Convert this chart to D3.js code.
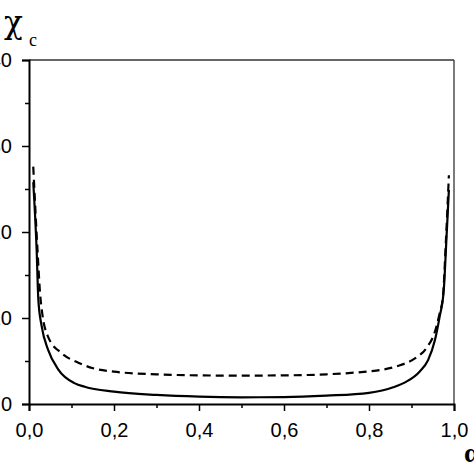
<!DOCTYPE html>
<html>
<head>
<meta charset="utf-8">
<script src="https://cdn.jsdelivr.net/npm/d3@7"></script>
<style>
  body { margin: 0; background: #fff; }
  svg { display: block; }
  .tick text { font-family: "Liberation Sans", Arial, sans-serif; font-size: 20px; fill: #000; }
</style>
</head>
<body>
<svg id="chart" width="474" height="474"></svg>
<script>
// alpha values
const alphaSolid = [0.010, 0.018, 0.022, 0.030, 0.045, 0.069, 0.108, 0.131, 0.2, 0.3, 0.4, 0.5, 0.6, 0.7, 0.8, 0.857, 0.888, 0.919, 0.939, 0.955, 0.966, 0.976, 0.982, 0.988];
const chiSolid   = [25.8, 17.9, 12.1, 9.0, 6.3, 4.0, 2.4, 2.0, 1.43, 1.05, 0.85, 0.78, 0.80, 0.97, 1.3, 1.94, 2.6, 3.76, 5.1, 7.4, 10.1, 13.3, 19.0, 24.9];

const alphaDashed = [0.010, 0.020, 0.026, 0.031, 0.045, 0.077, 0.116, 0.151, 0.2, 0.3, 0.4, 0.5, 0.6, 0.7, 0.8, 0.826, 0.873, 0.908, 0.935, 0.955, 0.966, 0.974, 0.981, 0.988];
const chiDashed   = [27.6, 17.9, 12.9, 10.6, 7.8, 5.9, 4.8, 4.15, 3.76, 3.45, 3.33, 3.3, 3.33, 3.45, 3.8, 3.95, 4.5, 5.3, 6.5, 8.4, 10.5, 12.5, 19.0, 26.6];

const xTicks = [0, 0.2, 0.4, 0.6, 0.8, 1.0];
const xMinor = [0.1, 0.3, 0.5, 0.7, 0.9];
const yTicks = [0, 10, 20, 30, 40];
const yMinor = [5, 15, 25, 35];

const svg = d3.select("#chart");
const mLeft = 29, mRight = 454, mTop = 60, mBottom = 404;

const x = d3.scaleLinear().domain([0, 1]).range([mLeft, mRight]);
const y = d3.scaleLinear().domain([0, 40]).range([mBottom, mTop]);

// frame (top and right)
svg.append("line").attr("x1", mLeft).attr("x2", mRight).attr("y1", mTop).attr("y2", mTop)
    .attr("stroke", "#333").attr("stroke-width", 1.3);
svg.append("line").attr("x1", mRight).attr("x2", mRight).attr("y1", mTop).attr("y2", mBottom)
    .attr("stroke", "#333").attr("stroke-width", 1.3);

// bottom axis
const fmt = d => d3.format(".1f")(d).replace(".", ",");
const xAxis = svg.append("g").attr("transform", `translate(0,${mBottom})`)
    .call(d3.axisBottom(x).tickValues(xTicks).tickFormat(fmt).tickSize(7).tickPadding(8));
svg.append("g").attr("transform", `translate(0,${mBottom})`)
    .call(d3.axisBottom(x).tickValues(xMinor).tickFormat("").tickSize(4))
    .select(".domain").remove();

// left axis (labels are cut by the left edge, as in the source picture)
const yAxis = svg.append("g").attr("transform", `translate(${mLeft},0)`)
    .call(d3.axisLeft(y).tickValues(yTicks).tickSize(7).tickPadding(10));
svg.append("g").attr("transform", `translate(${mLeft},0)`)
    .call(d3.axisLeft(y).tickValues(yMinor).tickFormat("").tickSize(4))
    .select(".domain").remove();

svg.selectAll(".domain").attr("stroke", "#000").attr("stroke-width", 2);
svg.selectAll(".tick line").attr("stroke", "#000").attr("stroke-width", 1.5);
xAxis.selectAll(".tick text").attr("dy", "0.9em");

// curves
const line = d3.line().x(d => x(d[0])).y(d => y(d[1])).curve(d3.curveMonotoneX);

svg.append("path")
    .datum(d3.zip(alphaSolid, chiSolid))
    .attr("d", line)
    .attr("fill", "none").attr("stroke", "#000").attr("stroke-width", 2.2);

svg.append("path")
    .datum(d3.zip(alphaDashed, chiDashed))
    .attr("d", line)
    .attr("fill", "none").attr("stroke", "#000").attr("stroke-width", 2.2)
    .attr("stroke-dasharray", "8,5");

// axis titles
svg.append("text").attr("x", 4).attr("y", 33)
    .attr("font-family", "'DejaVu Serif', 'Liberation Serif', serif")
    .attr("font-size", 31).text("χ");
svg.append("text").attr("x", 29).attr("y", 46)
    .attr("font-family", "'Liberation Serif', serif")
    .attr("font-size", 18).text("c");

svg.append("text").attr("x", 464).attr("y", 462)
    .attr("font-family", "'Liberation Serif', 'DejaVu Serif', serif")
    .attr("font-weight", "bold").attr("font-size", 28).text("α");
</script>
</body>
</html>
